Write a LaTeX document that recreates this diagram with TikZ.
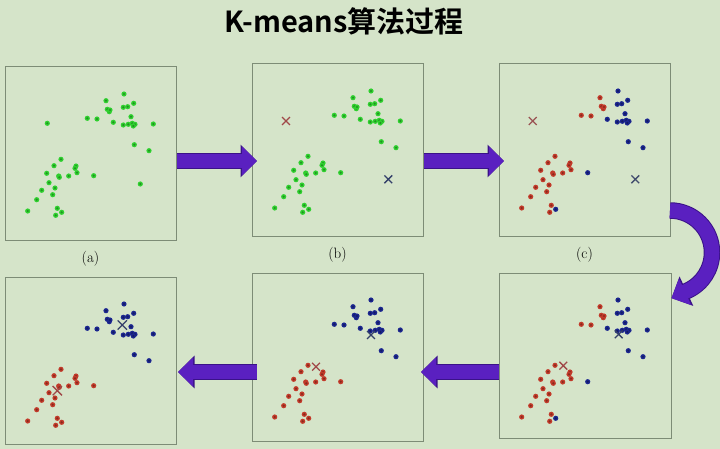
\documentclass[tikz,border=0pt]{standalone}
\usepackage{fontspec}
\newfontfamily\cjk{Noto Sans CJK SC Bold}
\usetikzlibrary{arrows.meta,positioning,calc,shapes.misc}

\definecolor{bgcolor}{HTML}{D5E4C9}
\definecolor{framegray}{HTML}{7D8C76}
\definecolor{ptgreen}{HTML}{2FD02F}
\definecolor{ptred}{HTML}{C23A2A}
\definecolor{ptblue}{HTML}{1B268F}
\definecolor{xred}{HTML}{A04848}
\definecolor{xblue}{HTML}{34406A}
\definecolor{flowfill}{HTML}{5A20C0}
\definecolor{flowline}{HTML}{3A1288}

% points, relative to a panel's top left corner (y counted downwards)
\newcommand{\upperleft}{101/33.7, 102.3/42.3, 104.3/44.7, 105/43, 82.3/51.3, 92/52}
\newcommand{\upperright}{119/27, 118.3/40.3, 122.7/39.7, 128.7/36.3, 126/49.7, 108.3/55.3, 118.3/58, 123.3/57.3, 127.3/56.3, 130/57.3, 128.3/59, 148.3/57, 129.3/77.7, 144/83.7}
\newcommand{\lowermain}{56/92.3, 49/98.7, 71/99, 70/101.3, 41.7/106.3, 53.7/109, 54.3/110.3, 72/105.7, 63.7/109, 44/115.7, 50/121, 36.7/123.3, 47.7/127.7, 31.7/132.7, 22.7/144, 52.3/141.3, 50.7/148.3}
\newcommand{\lowerstray}{88.7/108.7, 56.7/145.3}
\newcommand{\seeds}{42.3/56.3, 135.3/117}
\newcommand{\plotpts}[2]{\foreach \px/\py in #2 {\fill[#1] (\px,-\py) circle (2.6pt); \fill[#1!70!black] (\px,-\py) circle (1.2pt);}}

\begin{document}
\begin{tikzpicture}[x=1pt, y=1pt,
                    panel/.style={draw=framegray, line width=1pt, fill=bgcolor, inner sep=0pt, outer sep=0pt, anchor=north west},
                    tag/.style={font=\fontsize{15}{15}\selectfont},
                    centroid/.style={cross out, draw, minimum size=6.5pt, inner sep=0pt, line width=1.3pt},
                    flowedge/.style={line width=16.5pt, flowline, -{Triangle[length=16.5pt,width=31.5pt]}},
                    flowbody/.style={line width=14.5pt, flowfill, -{Triangle[length=15pt,width=28pt]}},
                   ]

\fill[bgcolor] (0,0) rectangle (720,-449);
\useasboundingbox (0,0) rectangle (720,-449);

\node[font=\cjk\fontsize{29}{29}\selectfont] (title) at (344,-21) {K-means算法过程};

% panels
\node[panel, minimum width=171pt, minimum height=173pt] (pa) at (5,-67) {};
\node[panel, minimum width=171pt, minimum height=172pt] (pb) at (252,-64) {};
\node[panel, minimum width=171pt, minimum height=172pt] (pc) at (499,-64) {};
\node[panel, minimum width=172pt, minimum height=165pt] (pd) at (499,-273) {};
\node[panel, minimum width=171pt, minimum height=168pt] (pe) at (252,-273) {};
\node[panel, minimum width=171pt, minimum height=167pt] (pf) at (5,-277) {};

\node[tag, below=8pt of pa] (ta) {(a)};
\node[tag, below=8pt of pb] (tb) {(b)};
\node[tag, below=8pt of pc] (tc) {(c)};

% (a)
\begin{scope}[shift={(pa.north west)}]
\plotpts{ptgreen}{\upperleft}
\plotpts{ptgreen}{\upperright}
\plotpts{ptgreen}{\lowermain}
\plotpts{ptgreen}{\lowerstray}
\plotpts{ptgreen}{\seeds}
\end{scope}

% (b)
\begin{scope}[shift={(pb.north west)}]
\plotpts{ptgreen}{\upperleft}
\plotpts{ptgreen}{\upperright}
\plotpts{ptgreen}{\lowermain}
\plotpts{ptgreen}{\lowerstray}
\node[centroid, xred] (cbr) at (34,-57) {};
\node[centroid, xblue] (cbb) at (136.3,-115.3) {};
\end{scope}

% (c)
\begin{scope}[shift={(pc.north west)}]
\plotpts{ptred}{\upperleft}
\plotpts{ptblue}{\upperright}
\plotpts{ptred}{\lowermain}
\plotpts{ptblue}{\lowerstray}
\node[centroid, xred!80!gray] (ccr) at (33.7,-57) {};
\node[centroid, xblue!80!gray] (ccb) at (136.3,-115.3) {};
\end{scope}

% (d)
\begin{scope}[shift={(pd.north west)}]
\plotpts{ptred}{\upperleft}
\plotpts{ptblue}{\upperright}
\plotpts{ptred}{\lowermain}
\plotpts{ptblue}{\lowerstray}
\node[centroid, xred] (cdr) at (64.3,-92.7) {};
\node[centroid, xblue] (cdb) at (119.7,-61.3) {};
\end{scope}

% (e)
\begin{scope}[shift={(pe.north west)}]
\plotpts{ptblue}{\upperleft}
\plotpts{ptblue}{\upperright}
\plotpts{ptred}{\lowermain}
\plotpts{ptred}{\lowerstray}
\node[centroid, xred] (cer) at (64,-93.7) {};
\node[centroid, xblue] (ceb) at (119,-62) {};
\end{scope}

% (f)
\begin{scope}[shift={(pf.north west)}]
\plotpts{ptblue}{\upperleft}
\plotpts{ptblue}{\upperright}
\plotpts{ptred}{\lowermain}
\plotpts{ptred}{\lowerstray}
\node[centroid, xred, minimum size=8pt] (cfr) at (52.3,-113.7) {};
\node[centroid, xblue, minimum size=8pt] (cfb) at (117.3,-48) {};
\end{scope}

% arrows between the steps
\coordinate (toprow) at (0,-161);
\coordinate (botrow) at (0,-372);

\foreach \s in {flowedge, flowbody} {
  \draw[\s] ($(pa.east |- toprow)+(1,0)$) -- ($(pb.west |- toprow)+(5,0)$);
  \draw[\s] ($(pb.east |- toprow)+(1,0)$) -- ($(pc.west |- toprow)+(5,0)$);
  \draw[\s] (pc.east |- 0,-210.5) arc[start angle=90, end angle=-65, radius=42] -- ++(-16.3,-7.6);
  \draw[\s] (pd.west |- botrow) -- ($(pe.east |- botrow)+(-2,0)$);
  \draw[\s] ($(pe.west |- botrow)+(5,0)$) -- ($(pf.east |- botrow)+(2,0)$);
}

\end{tikzpicture}
\end{document}
